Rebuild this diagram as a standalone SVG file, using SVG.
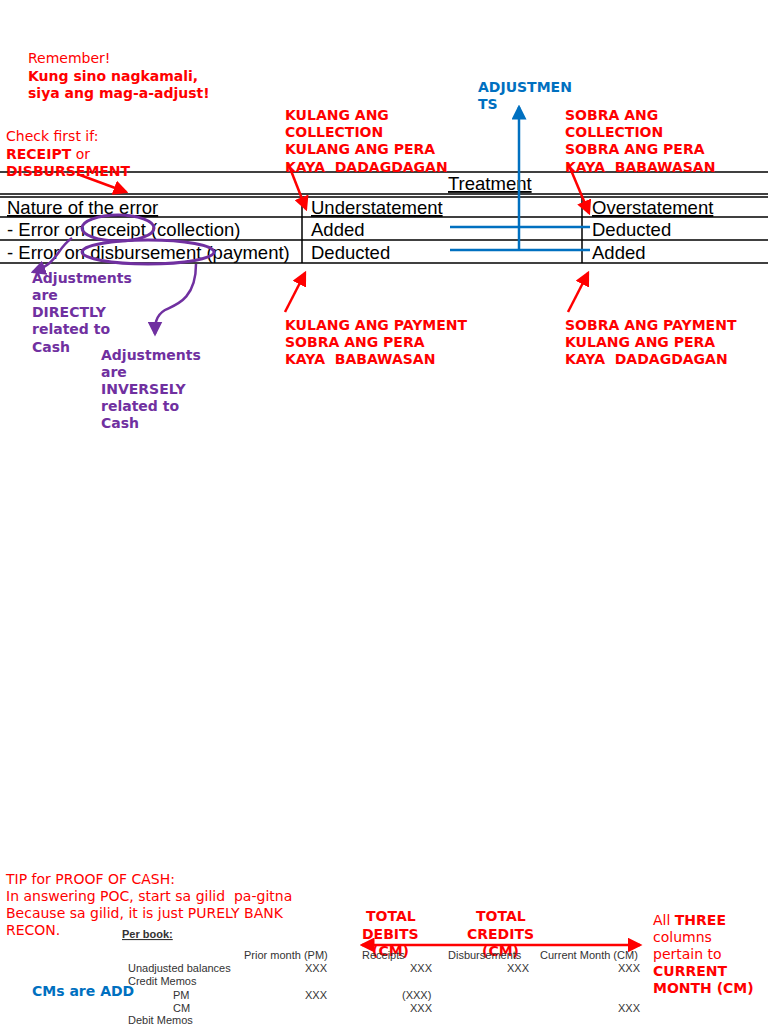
<svg xmlns="http://www.w3.org/2000/svg" width="768" height="1024" viewBox="0 0 768 1024">
<style>
text{font-family:"DejaVu Sans","Noto Sans",sans-serif;white-space:pre}
.r{fill:#ff0000;font-size:14px}
.rb{fill:#ff0000;font-size:14px;font-weight:bold}
.b{fill:#0070c0;font-size:14px;font-weight:bold}
.p{fill:#7030a0;font-size:14px;font-weight:bold}
.t{fill:#000;font-size:18.5px;font-family:"Liberation Sans",sans-serif}
.g{fill:#333;font-size:11px;font-family:"Liberation Sans",sans-serif}
.ra{stroke:#ff0000;stroke-width:2.5;fill:none;marker-end:url(#ar)}
</style>
<defs>
<marker id="ar" markerWidth="6" markerHeight="6" refX="5" refY="3" orient="auto"><path d="M0,0L6,3L0,6z" fill="#ff0000"/></marker>
<marker id="ab" markerWidth="6" markerHeight="6" refX="5" refY="3" orient="auto"><path d="M0,0L6,3L0,6z" fill="#0070c0"/></marker>
<marker id="ap" markerWidth="6" markerHeight="6" refX="5" refY="3" orient="auto"><path d="M0,0L6,3L0,6z" fill="#7030a0"/></marker>
<marker id="ars" markerWidth="6" markerHeight="6" refX="1" refY="3" orient="auto"><path d="M6,0L0,3L6,6z" fill="#ff0000"/></marker>
</defs>
<rect width="768" height="1024" fill="#fff"/>
<g id="table" stroke="#000">
<line x1="0" y1="172" x2="768" y2="172" stroke-width="1.5"/>
<line x1="0" y1="194" x2="768" y2="194" stroke-width="1.5"/>
<line x1="0" y1="197" x2="768" y2="197" stroke-width="1.5"/>
<line x1="0" y1="217" x2="768" y2="217" stroke-width="1.5"/>
<line x1="0" y1="240" x2="768" y2="240" stroke-width="1.5"/>
<line x1="0" y1="263" x2="768" y2="263" stroke-width="1.5"/>
<line x1="302" y1="197" x2="302" y2="263" stroke-width="1.5"/>
<line x1="582" y1="197" x2="582" y2="263" stroke-width="1.5"/>
</g>
<g id="table-text">
<text class="t" x="448" y="190" text-decoration="underline">Treatment</text>
<text class="t" x="7" y="214" text-decoration="underline">Nature of the error</text>
<text class="t" x="311" y="214" text-decoration="underline">Understatement</text>
<text class="t" x="592" y="214" text-decoration="underline">Overstatement</text>
<text class="t" x="7" y="236">- Error on receipt (collection)</text>
<text class="t" x="311" y="236">Added</text>
<text class="t" x="592" y="236">Deducted</text>
<text class="t" x="7" y="259">- Error on disbursement (payment)</text>
<text class="t" x="311" y="259">Deducted</text>
<text class="t" x="592" y="259">Added</text>
</g>
<g id="notes">
<text class="r" x="28" y="63">Remember!</text>
<text class="rb" x="28" y="81">Kung sino nagkamali,</text>
<text class="rb" x="28" y="98">siya ang mag-a-adjust!</text>
<text class="r" x="6" y="141">Check first if:</text>
<text class="r" x="6" y="159"><tspan font-weight="bold">RECEIPT</tspan> or</text>
<text class="rb" x="6" y="176">DISBURSEMENT</text>
<text class="rb" x="285" y="120">KULANG ANG</text>
<text class="rb" x="285" y="137">COLLECTION</text>
<text class="rb" x="285" y="154">KULANG ANG PERA</text>
<text class="rb" x="285" y="172">KAYA  DADAGDAGAN</text>
<text class="rb" x="565" y="120">SOBRA ANG</text>
<text class="rb" x="565" y="137">COLLECTION</text>
<text class="rb" x="565" y="154">SOBRA ANG PERA</text>
<text class="rb" x="565" y="172">KAYA  BABAWASAN</text>
<text class="b" x="478" y="92">ADJUSTMEN</text>
<text class="b" x="478" y="109">TS</text>
<text class="rb" x="285" y="330">KULANG ANG PAYMENT</text>
<text class="rb" x="285" y="347">SOBRA ANG PERA</text>
<text class="rb" x="285" y="364">KAYA  BABAWASAN</text>
<text class="rb" x="565" y="330">SOBRA ANG PAYMENT</text>
<text class="rb" x="565" y="347">KULANG ANG PERA</text>
<text class="rb" x="565" y="364">KAYA  DADAGDAGAN</text>
<text class="p" x="32" y="283">Adjustments</text>
<text class="p" x="32" y="300">are</text>
<text class="p" x="32" y="317">DIRECTLY</text>
<text class="p" x="32" y="334">related to</text>
<text class="p" x="32" y="352">Cash</text>
<text class="p" x="101" y="360">Adjustments</text>
<text class="p" x="101" y="377">are</text>
<text class="p" x="101" y="394">INVERSELY</text>
<text class="p" x="101" y="411">related to</text>
<text class="p" x="101" y="428">Cash</text>
</g>
<g id="connectors">
<line x1="80" y1="175" x2="126" y2="192" class="ra"/>
<line x1="288" y1="163" x2="306" y2="209" class="ra"/>
<line x1="568" y1="163" x2="589" y2="213" class="ra"/>
<line x1="285" y1="312" x2="305" y2="273" class="ra"/>
<line x1="568" y1="312" x2="588" y2="273" class="ra"/>
<line x1="519" y1="250" x2="519" y2="107" stroke="#0070c0" stroke-width="2.5" marker-end="url(#ab)"/>
<line x1="450" y1="227" x2="590" y2="227" stroke="#0070c0" stroke-width="2.5"/>
<line x1="450" y1="250" x2="590" y2="250" stroke="#0070c0" stroke-width="2.5"/>
<ellipse cx="118" cy="228" rx="36" ry="13" fill="none" stroke="#7030a0" stroke-width="3"/>
<ellipse cx="148" cy="252" rx="66" ry="12" fill="none" stroke="#7030a0" stroke-width="3"/>
<path d="M72,238C55,250 60,262 33,272" fill="none" stroke="#7030a0" stroke-width="2.5" marker-end="url(#ap)"/>
<path d="M196,264C196,300 175,305 165,310C155,316 155,325 155,334" fill="none" stroke="#7030a0" stroke-width="2.5" marker-end="url(#ap)"/>
<line x1="362" y1="945" x2="640" y2="945" stroke="#ff0000" stroke-width="2.5" marker-start="url(#ars)" marker-end="url(#ar)"/>
</g>
<g id="poc">
<text class="r" x="6" y="884">TIP for PROOF OF CASH:</text>
<text class="r" x="6" y="901">In answering POC, start sa gilid  pa-gitna</text>
<text class="r" x="6" y="918">Because sa gilid, it is just PURELY BANK</text>
<text class="r" x="6" y="935">RECON.</text>
<text class="rb" x="366" y="921">TOTAL</text>
<text class="rb" x="362" y="939">DEBITS</text>
<text class="rb" x="372" y="956">(CM)</text>
<text class="rb" x="476" y="921">TOTAL</text>
<text class="rb" x="467" y="939">CREDITS</text>
<text class="rb" x="482" y="956">(CM)</text>
<text class="r" x="653" y="925">All <tspan font-weight="bold">THREE</tspan></text>
<text class="r" x="653" y="942">columns</text>
<text class="r" x="653" y="959">pertain to</text>
<text class="rb" x="653" y="976">CURRENT</text>
<text class="rb" x="653" y="993">MONTH (CM)</text>
<text class="b" x="32" y="996">CMs are ADD</text>
<text class="g" x="122" y="938" font-weight="bold" text-decoration="underline">Per book:</text>
<text class="g" x="244" y="959">Prior month (PM)</text>
<text class="g" x="362" y="959">Receipts</text>
<text class="g" x="448" y="959">Disbursements</text>
<text class="g" x="540" y="959">Current Month (CM)</text>
<text class="g" x="128" y="972">Unadjusted balances</text>
<text class="g" x="305" y="972">XXX</text>
<text class="g" x="410" y="972">XXX</text>
<text class="g" x="507" y="972">XXX</text>
<text class="g" x="618" y="972">XXX</text>
<text class="g" x="128" y="985">Credit Memos</text>
<text class="g" x="173" y="999">PM</text>
<text class="g" x="305" y="999">XXX</text>
<text class="g" x="402" y="999">(XXX)</text>
<text class="g" x="173" y="1012">CM</text>
<text class="g" x="410" y="1012">XXX</text>
<text class="g" x="618" y="1012">XXX</text>
<text class="g" x="128" y="1024">Debit Memos</text>
</g>
</svg>
